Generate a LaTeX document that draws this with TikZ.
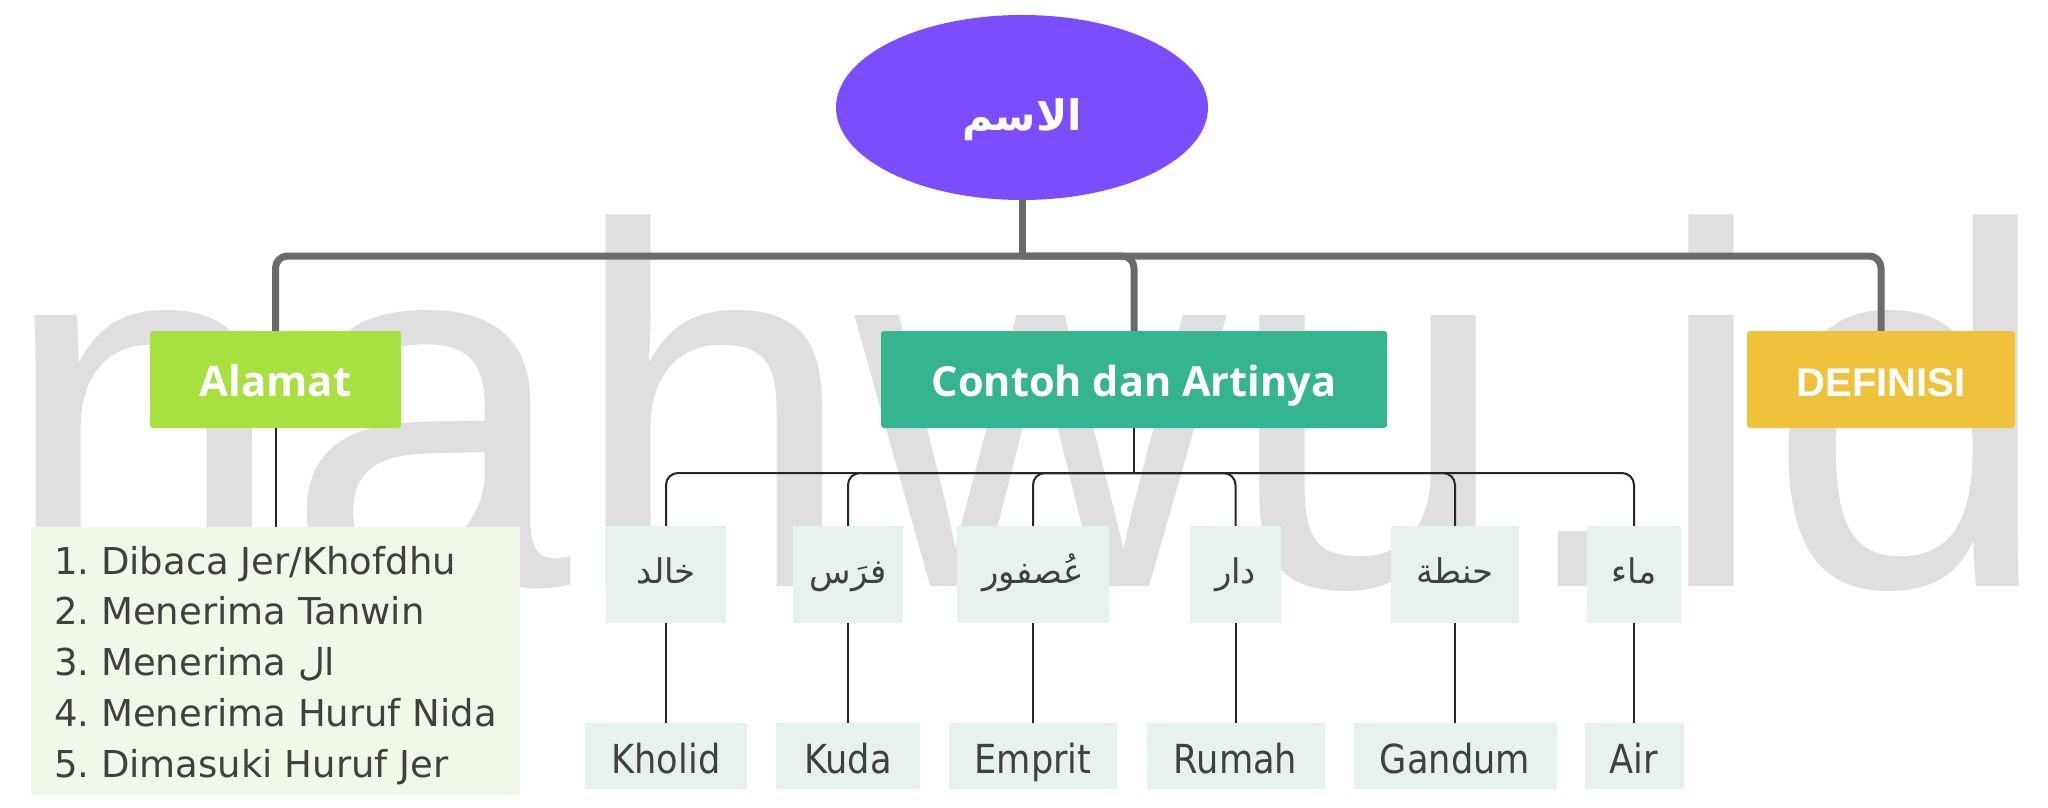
\documentclass[tikz,border=0pt]{standalone}
\usepackage{fontspec}
\usetikzlibrary{shapes.geometric}
\TeXXeTstate=1
\newfontfamily\dvsans{DejaVu Sans}
\newfontfamily\dvnarrow[FakeStretch=0.88]{DejaVu Sans}
\newfontfamily\osans{Open Sans}
\newfontfamily\lsans{Liberation Sans}
\newfontfamily\arabicfont[Script=Arabic]{DejaVu Sans}
\definecolor{wmgray}{HTML}{DFDFDF}
\definecolor{purp}{HTML}{7C4DFD}
\definecolor{bargray}{HTML}{6B6B6B}
\definecolor{limeg}{HTML}{A8E03F}
\definecolor{tealg}{HTML}{35B58F}
\definecolor{goldy}{HTML}{EFC23B}
\definecolor{listbg}{HTML}{F1F8EA}
\definecolor{exbg}{HTML}{E7F2EC}
\definecolor{txt}{HTML}{404040}
\tikzset{
  topbox/.style={rectangle, rounded corners=3pt, minimum height=97pt, inner sep=0pt, text=white,
                 text height=36pt, text depth=2pt},
  exbox/.style={rectangle, fill=exbg, inner sep=0pt, text=txt},
  arbox/.style={exbox, minimum height=97pt, text height=30pt, text depth=13pt,
                font=\arabicfont\fontsize{34}{34}\selectfont},
  ltbox/.style={exbox, minimum height=66pt, text height=36pt, text depth=2pt,
                font=\dvnarrow\fontsize{40}{40}\selectfont},
  barline/.style={draw=bargray, line width=7pt},
  thinline/.style={draw=black!85, line width=2pt}
}
\begin{document}
\frenchspacing
\begin{tikzpicture}[x=1pt,y=-1pt]
\useasboundingbox (0,0) rectangle (2048,808);
\fill[white] (0,0) rectangle (2048,808);
% watermark
\node[anchor=base west, inner sep=0pt, text=wmgray, font=\lsans\fontsize{513}{513}\selectfont] (wm) at (0,586) {nahwu.id};

% coordinates for junctions
\coordinate (tj) at (1022,256);
\coordinate (bj) at (1134,473);

% root
\node[ellipse, fill=purp, minimum width=372pt, minimum height=185pt, inner sep=0pt, text=white,
      text height=48pt, text depth=3pt,
      font=\arabicfont\bfseries\fontsize{42}{42}\selectfont] (root) at (1022,107.5) {\beginR الاسم\endR};

% top-level boxes
\node[topbox, fill=limeg, minimum width=251pt, font=\osans\bfseries\fontsize{42}{42}\selectfont] (alamat) at (275.5,379.5) {Alamat};
\node[topbox, fill=tealg, minimum width=506pt, font=\osans\bfseries\fontsize{41.5}{41.5}\selectfont] (contoh) at (1134,379.5) {Contoh dan Artinya};
\node[topbox, fill=goldy, minimum width=268pt, font=\lsans\bfseries\fontsize{40}{40}\selectfont] (defn) at (1881,379.5) {DEFINISI};

% list box
\node[rectangle, fill=listbg, minimum width=489pt, minimum height=268pt, inner sep=0pt,
      align=left, text=txt, font=\dvsans\fontsize{37}{50.75}\selectfont] (list) at (275.5,661)
  {\rule{0pt}{40pt}1. Dibaca Jer/Khofdhu\\2. Menerima Tanwin\\3. Menerima {\arabicfont\beginR ال\endR}\\4. Menerima Huruf Nida\\5. Dimasuki Huruf Jer\rule[-11pt]{0pt}{11pt}};

% arabic examples
\node[arbox, minimum width=120pt] (a1) at (666,574.5) {\beginR خالد\endR};
\node[arbox, minimum width=110pt] (a2) at (848,574.5) {\beginR فرَس\endR};
\node[arbox, minimum width=152pt] (a3) at (1033,574.5) {\beginR عُصفور\endR};
\node[arbox, minimum width=91pt] (a4) at (1235.5,574.5) {\beginR دار\endR};
\node[arbox, minimum width=128pt] (a5) at (1455,574.5) {\beginR حنطة\endR};
\node[arbox, minimum width=94pt] (a6) at (1634,574.5) {\beginR ماء\endR};

% latin meanings
\node[ltbox, minimum width=162pt] (l1) at (666,756) {Kholid};
\node[ltbox, minimum width=144pt] (l2) at (848,756) {Kuda};
\node[ltbox, minimum width=168pt] (l3) at (1033,756) {Emprit};
\node[ltbox, minimum width=178pt] (l4) at (1235.5,756) {Rumah};
\node[ltbox, minimum width=203pt] (l5) at (1455,756) {Gandum};
\node[ltbox, minimum width=99pt] (l6) at (1634,756) {Air};

% thick connectors
\draw[barline] (root.south) -- (tj);
\draw[barline, rounded corners=12pt] (tj) -| (alamat.north);
\draw[barline, rounded corners=12pt] (tj) -| (contoh.north);
\draw[barline, rounded corners=12pt] (tj) -| (defn.north);

% thin connectors
\draw[thinline] (alamat.south) -- (list.north);
\draw[thinline] (contoh.south) -- (bj);
\foreach \i in {1,...,6}{
  \draw[thinline, rounded corners=12pt] (bj) -| (a\i.north);
  \draw[thinline] (a\i.south) -- (l\i.north);
}
\end{tikzpicture}
\end{document}
